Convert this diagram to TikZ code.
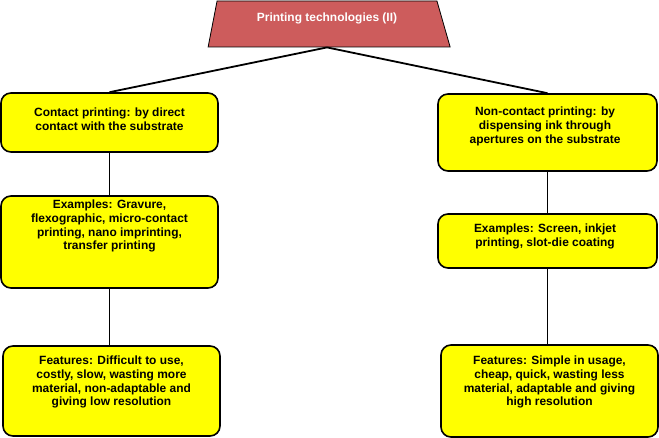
\documentclass[tikz,border=0pt]{standalone}
\usepackage{fontspec}
\setmainfont{Liberation Sans}
\usetikzlibrary{shapes.geometric}

\definecolor{titlered}{RGB}{205, 92, 92}
\definecolor{boxyellow}{RGB}{255, 255, 0}

\begin{document}
\begin{tikzpicture}[
  x = 1bp, y = -1bp,
  box/.style = {
    shape = rectangle,
    rounded corners = 10bp,
    fill = boxyellow,
    draw = black,
    line width = 1.6bp,
    inner sep = 0pt,
  },
  title box/.style = {
    shape = trapezium,
    trapezium left angle = 79,
    trapezium right angle = 74,
    trapezium stretches body = true,
    minimum width = 242bp,
    text height = 9bp,
    text depth = 14bp,
    inner xsep = 4bp,
    inner ysep = 11.5bp,
    fill = titlered,
    draw = black,
    line width = 0.8bp,
    text = white,
    font = \bfseries\fontsize{12}{14}\selectfont
  },
  label text/.style = {
    align = center,
    inner sep = 0pt,
    font = \bfseries\fontsize{12}{14}\selectfont
  },
  every path/.style = {
    line width = 1.8bp
  }
]
  \useasboundingbox (0, 0) rectangle (659, 438);

  \node[title box] (title) at (327, 24) {Printing technologies (II)};

  % contact printing
  \node[box, minimum width = 217bp, minimum height = 59bp] (contact) at (109.5, 122.5) {};
  \node[box, minimum width = 217bp, minimum height = 92bp] (contact ex) at (109.5, 242) {};
  \node[box, minimum width = 217bp, minimum height = 90bp] (contact ft) at (111.5, 391) {};

  \node[label text] (contact text) at (109.5, 119) {Contact printing: by direct\\contact with the substrate};
  \node[label text] (contact ex text) at (109.5, 226) {Examples: Gravure,\\flexographic, micro-contact\\printing, nano imprinting,\\transfer printing};
  \node[label text] (contact ft text) at (111.5, 382) {Features: Difficult to use,\\costly, slow, wasting more\\material, non-adaptable and\\giving low resolution};

  % non-contact printing
  \node[box, minimum width = 219bp, minimum height = 77bp] (noncontact) at (547.5, 132.5) {};
  \node[box, minimum width = 219bp, minimum height = 54bp] (noncontact ex) at (547.5, 241) {};
  \node[box, minimum width = 217bp, minimum height = 92bp] (noncontact ft) at (549.5, 391) {};

  \node[label text] (noncontact text) at (545, 126) {Non-contact printing: by\\dispensing ink through\\apertures on the substrate};
  \node[label text] (noncontact ex text) at (545, 236) {Examples: Screen, inkjet\\printing, slot-die coating};
  \node[label text] (noncontact ft text) at (549.5, 382) {Features: Simple in usage,\\cheap, quick, wasting less\\material, adaptable and giving\\high resolution};

  \draw (title.south) -- (contact.north);
  \draw (title.south) -- (noncontact.north);
  \draw (contact.south) -- (contact.south |- contact ex.north);
  \draw (contact ex.south) -- (contact ex.south |- contact ft.north);
  \draw (noncontact.south) -- (noncontact.south |- noncontact ex.north);
  \draw (noncontact ex.south) -- (noncontact ex.south |- noncontact ft.north);
\end{tikzpicture}
\end{document}
